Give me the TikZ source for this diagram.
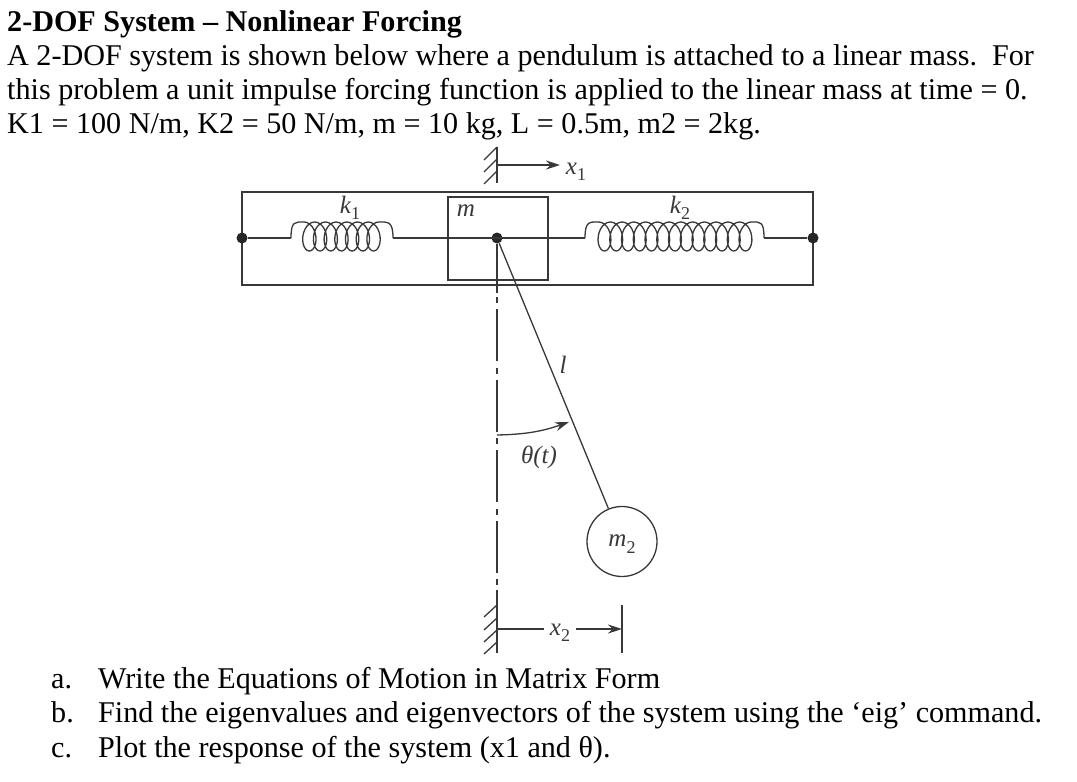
\documentclass[tikz,border=0pt]{standalone}
\usepackage{fontspec}
\setmainfont{Liberation Serif}
\usetikzlibrary{arrows.meta,positioning,calc}
\definecolor{INK}{gray}{0.22}
\tikzstyle{TEXTLINE} = [anchor=base west, inner sep=0pt, font=\fontsize{30.13}{34}\selectfont]
\tikzstyle{TITLELINE} = [TEXTLINE, font=\fontsize{30.13}{34}\selectfont\bfseries]
\tikzstyle{LABEL} = [inner sep=0pt, text=INK, font=\fontsize{25}{28}\selectfont\itshape]
\tikzstyle{BOX} = [rectangle, draw=INK, line width=1.3pt, inner sep=0pt]
\tikzstyle{BALL} = [circle, draw=INK, line width=1.3pt, inner sep=0pt, minimum size=70pt]
\tikzstyle{DOT} = [circle, fill=black!85, inner sep=0pt, minimum size=11pt]
\tikzstyle{LINE} = [draw=INK, line width=1.3pt]
\tikzstyle{ARROW} = [LINE, -{Stealth[length=14pt, width=9pt]}]
\tikzstyle{CENTERLINE} = [LINE, dash pattern=on 52pt off 6.5pt on 6pt off 6pt]
% start, end, loops, pitch, offset of first crest
\newcommand{\COIL}[5]{%
  \pgfmathsetmacro{\COILEND}{360*#3}
  \path [LINE, line join=round, shift={(#1)}] (#1) .. controls +(0,-17) and +(-9,0) .. +(#5,-16)
    -- plot [domain=0:\COILEND, samples=\numexpr 24*#3+1\relax, smooth, variable=\t]
       ({#5+\t/360*#4+9.2*sin(\t)}, {-1.5-14.5*cos(\t)})
    .. controls +(9,0) and +(0,-17) .. (#2);
}
\newcommand{\SUBLABEL}[2]{#1\raisebox{-0.25em}{\fontsize{18}{20}\selectfont\upshape #2}}

\begin{document}
\begin{tikzpicture}[x=1pt, y=-1pt]
\useasboundingbox (0,0) rectangle (1077,782);
% Place text
\node [TITLELINE] (TITLE) at (7,31) {2-DOF System -- Nonlinear Forcing};
\node [TEXTLINE] (LINE_1) at (7,65) {A 2-DOF system is shown below where a pendulum is attached to a linear mass.\ \ For};
\node [TEXTLINE] (LINE_2) at (7,99) {this problem a unit impulse forcing function is applied to the linear mass at time = 0.};
\node [TEXTLINE] (LINE_3) at (7,133) {K1 = 100 N/m, K2 = 50 N/m, m = 10 kg, L = 0.5m, m2 = 2kg.};
\node [TEXTLINE] (ITEM_A) at (51,688) {a.};
\node [TEXTLINE] (ITEM_B) at (51,722) {b.};
\node [TEXTLINE] (ITEM_C) at (51,757) {c.};
\node [TEXTLINE] (TEXT_A) at (98,688) {Write the Equations of Motion in Matrix Form};
\node [TEXTLINE] (TEXT_B) at (98,722) {Find the eigenvalues and eigenvectors of the system using the ‘eig’ command.};
\node [TEXTLINE] (TEXT_C) at (98,757) {Plot the response of the system (x1 and θ).};
% Place node
\node [BOX, minimum width=571pt, minimum height=93pt] (FRAME) at (527.5,238.5) {};
\node [BOX, minimum width=100pt, minimum height=83pt] (MASS) at (498,238.5) {};
\node [BALL] (MASS2) at (622,541.5) {};
\node [DOT] (LEFT_END) at (242,238) {};
\node [DOT] (RIGHT_END) at (813,238) {};
\node [DOT] (PIVOT) at (497,238) {};
\coordinate (K1_START) at (291,238);
\coordinate (K1_END) at (393,238);
\coordinate (K2_START) at (585,238);
\coordinate (K2_END) at (764,238);
\coordinate (WALL_TOP_A) at (497,147);
\coordinate (WALL_TOP_B) at (497,183);
\coordinate (WALL_BOT_A) at (497,605);
\coordinate (WALL_BOT_B) at (497,653);
\coordinate (X1_START) at (497,165);
\coordinate (X1_END) at (560,165);
\coordinate (X2_START) at (497,629);
\coordinate (X2_END) at (622,629);
\coordinate (TICK_A) at (622,605);
\coordinate (TICK_B) at (622,653);
\coordinate (AXIS_A) at (497,293);
\coordinate (AXIS_B) at (497,297);
\coordinate (AXIS_C) at (497,590);
\coordinate (THETA_A) at (497,435);
\coordinate (THETA_B) at (569,422);
% Labels
\node [LABEL] (K1_LABEL) at (350,208) {\SUBLABEL{k}{1}};
\node [LABEL] (K2_LABEL) at (680,208) {\SUBLABEL{k}{2}};
\node [LABEL] (M_LABEL) at (466,211) {m};
\node [LABEL] (M2_LABEL) at (622,544) {\SUBLABEL{m}{2}};
\node [LABEL] (X1_LABEL) at (576,172) {\SUBLABEL{x}{1}};
\node [LABEL, inner xsep=6pt] (X2_LABEL) at (560,633) {\SUBLABEL{x}{2}};
\node [LABEL] (L_LABEL) at (563,365) {l};
\node [LABEL] (THETA_LABEL) at (539,457) {θ(t)};
% LINES and ARROWS
\path [LINE] (LEFT_END) -- (K1_START);
\COIL{K1_START}{K1_END}{7}{10.7}{13}
\path [LINE] (K1_END) -- (K2_START);
\COIL{K2_START}{K2_END}{13}{11.75}{13.6}
\path [LINE] (K2_END) -- (RIGHT_END);
\path [LINE] (PIVOT) -- (MASS2);
\path [LINE] (PIVOT) -- (AXIS_A);
\path [CENTERLINE, dash phase=58.5pt] (AXIS_B) -- (AXIS_C);
\path [LINE] (AXIS_C) -- (WALL_BOT_B);
\path [ARROW] (THETA_A) to[bend right=9] (THETA_B);
%
\path [LINE] (WALL_TOP_A) -- (WALL_TOP_B);
\foreach \y in {147,159,171}
  \draw [LINE] (497,\y) -- ++(-13,13);
\foreach \y in {605,618,630,642}
  \draw [LINE] (497,\y) -- ++(-13,12);
\path [ARROW] (X1_START) -- (X1_END);
\path [LINE] (TICK_A) -- (TICK_B);
\path [LINE] (X2_START) -- (X2_START -| X2_LABEL.west);
\path [ARROW] (X2_END -| X2_LABEL.east) -- (X2_END);
\end{tikzpicture}
\end{document}
